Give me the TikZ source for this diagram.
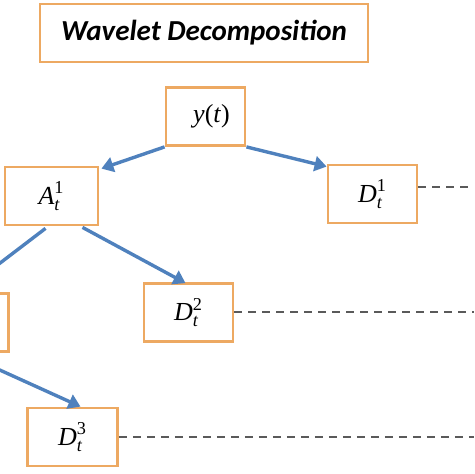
\documentclass[tikz,border=0pt]{standalone}
\usepackage{amsmath}
\usepackage{fontspec}
\setmainfont{Liberation Serif}
\newfontfamily\lblfont{Liberation Serif}
\newfontfamily\titlefont{Carlito}
\usetikzlibrary{arrows.meta,calc}
\definecolor{boxorange}{HTML}{EDA962}
\definecolor{arrowblue}{HTML}{4F81BD}
\definecolor{dashgray}{HTML}{5A5A5A}
\newcommand{\lbl}[2]{$\text{\lblfont\itshape #1}_{\text{\lblfont\itshape t}}^{\text{\lblfont\upshape #2}}$}
\tikzset{
  box/.style={draw=boxorange, line width=1.4pt, fill=white, inner sep=0pt, minimum height=29pt},
  arr/.style={draw=arrowblue, line width=1.7pt, -{Triangle[length=6pt,width=7.5pt]}},
  plainarr/.style={draw=arrowblue, line width=1.7pt},
  dashline/.style={draw=dashgray, line width=0.8pt, dash pattern=on 4pt off 3pt},
  mlabel/.style={font=\lblfont\fontsize{13}{15}\selectfont}
}
\begin{document}
\begin{tikzpicture}[x=0.5pt,y=-0.5pt]
\useasboundingbox (0,0) rectangle (474,474);
\clip (0,0) rectangle (474,474);
\node[box, minimum width=164pt, font=\titlefont\bfseries\itshape\fontsize{14.5}{16}\selectfont] (title) at (204,33) {Wavelet Decomposition};
\node[box, minimum width=39.5pt, mlabel] (y) at (205.5,116.5) {\hspace*{6pt}\textit{y}(\textit{t})};
\node[box, minimum width=46.5pt, mlabel] (A) at (51.5,196) {\lbl{A}{1}};
\node[box, minimum width=44.5pt, mlabel] (D1) at (372.5,194) {\lbl{D}{1}};
\node[box, minimum width=44.5pt, mlabel] (D2) at (188.5,312.5) {\lbl{D}{2}};
\node[box, minimum width=46.5pt] (P) at (-38,322.5) {};
\node[box, minimum width=45pt, mlabel] (D3) at (72.5,437) {\lbl{D}{3}};
\coordinate (e1) at (474,187);
\coordinate (e2) at (474,312);
\coordinate (e3) at (474,437);
\draw[arr] (y.south west) -- ($(A.north east)+(2,3)$);
\draw[arr] (y.south east) -- ($(D1.north west)+(0,3)$);
\draw[plainarr] ($(A.south)+(-6,2)$) -- (P.north);
\draw[arr] ($(A.south)+(31,1)$) -- ($(D2.north)+(-3,1)$);
\draw[arr] (P.south) -- ($(D3.north)+(8,0)$);
\draw[dashline] (D1.east |- e1) -- (e1);
\draw[dashline] (D2.east |- e2) -- (e2);
\draw[dashline] (D3.east |- e3) -- (e3);
\end{tikzpicture}
\end{document}
